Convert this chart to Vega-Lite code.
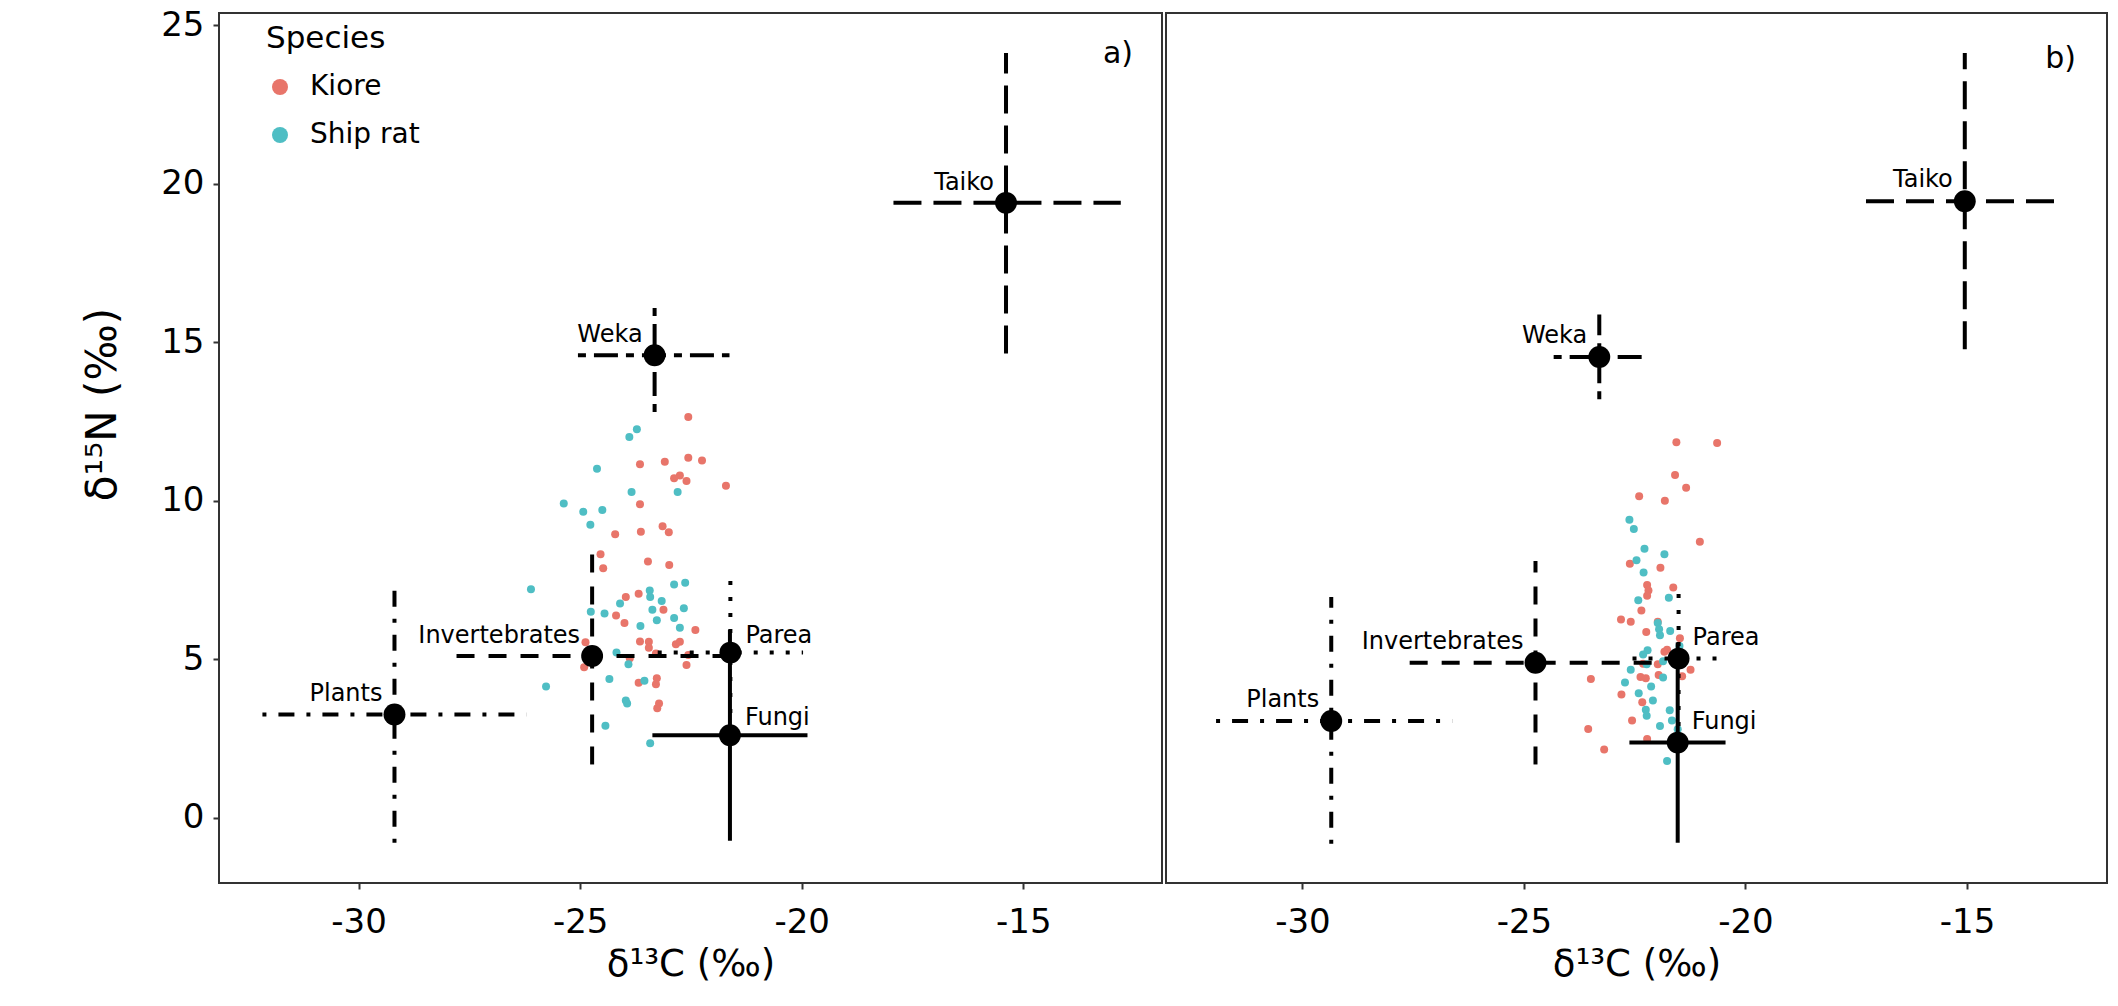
{
  "$schema": "https://vega.github.io/schema/vega-lite/v6.json",
  "padding": {"left": 80, "top": 7, "right": 5, "bottom": 5},
  "spacing": 2,
  "config": {
    "font": "DejaVu Sans",
    "view": {"stroke": "#333333", "strokeWidth": 2},
    "axis": {
      "domain": false, "grid": false,
      "tickColor": "#333333", "tickWidth": 2, "tickSize": 6,
      "labelFontSize": 34, "labelColor": "black", "labelFont": "DejaVu Sans",
      "labelExpr": "toString(datum.value)",
      "titleFontSize": 37, "titleFontWeight": "normal", "titleColor": "black", "titleFont": "DejaVu Sans"
    },
    "axisX": {"labelPadding": 16, "titlePadding": 7},
    "axisY": {"labelPadding": 9, "titlePadding": 36, "titleFontSize": 42, "titleY": 391},
    "title": {"fontSize": 30, "fontWeight": "normal", "color": "black", "font": "DejaVu Sans"}
  },
  "datasets": {
    "rats_a": [
      {"species": "Kiore", "x": -22.56, "y": 12.64}, {"species": "Kiore", "x": -23.65, "y": 11.15},
      {"species": "Kiore", "x": -23.09, "y": 11.23}, {"species": "Kiore", "x": -22.56, "y": 11.36},
      {"species": "Kiore", "x": -22.25, "y": 11.27}, {"species": "Kiore", "x": -22.75, "y": 10.80},
      {"species": "Kiore", "x": -22.88, "y": 10.71}, {"species": "Kiore", "x": -22.60, "y": 10.62},
      {"species": "Kiore", "x": -21.71, "y": 10.47}, {"species": "Kiore", "x": -23.65, "y": 9.89},
      {"species": "Kiore", "x": -23.14, "y": 9.20}, {"species": "Kiore", "x": -23.00, "y": 9.01},
      {"species": "Kiore", "x": -23.63, "y": 9.02}, {"species": "Kiore", "x": -24.21, "y": 8.94},
      {"species": "Kiore", "x": -24.54, "y": 8.31}, {"species": "Kiore", "x": -24.48, "y": 7.87},
      {"species": "Kiore", "x": -23.47, "y": 8.08}, {"species": "Kiore", "x": -22.99, "y": 7.97},
      {"species": "Kiore", "x": -23.97, "y": 6.96}, {"species": "Kiore", "x": -23.68, "y": 7.07},
      {"species": "Kiore", "x": -23.12, "y": 6.56}, {"species": "Kiore", "x": -24.19, "y": 6.38},
      {"species": "Kiore", "x": -24.00, "y": 6.14}, {"species": "Kiore", "x": -22.40, "y": 5.92},
      {"species": "Kiore", "x": -23.65, "y": 5.56}, {"species": "Kiore", "x": -23.45, "y": 5.55},
      {"species": "Kiore", "x": -23.45, "y": 5.36}, {"species": "Kiore", "x": -22.84, "y": 5.47},
      {"species": "Kiore", "x": -22.75, "y": 5.55}, {"species": "Kiore", "x": -24.88, "y": 5.54},
      {"species": "Kiore", "x": -24.91, "y": 4.75}, {"species": "Kiore", "x": -23.88, "y": 5.03},
      {"species": "Kiore", "x": -23.29, "y": 5.18}, {"species": "Kiore", "x": -22.56, "y": 5.13},
      {"species": "Kiore", "x": -22.60, "y": 4.82}, {"species": "Kiore", "x": -23.68, "y": 4.26},
      {"species": "Kiore", "x": -23.27, "y": 4.40}, {"species": "Kiore", "x": -23.29, "y": 4.21},
      {"species": "Kiore", "x": -23.22, "y": 3.60}, {"species": "Kiore", "x": -23.26, "y": 3.45},
      {"species": "Ship rat", "x": -23.72, "y": 12.26}, {"species": "Ship rat", "x": -23.89, "y": 12.01},
      {"species": "Ship rat", "x": -24.62, "y": 11.01}, {"species": "Ship rat", "x": -23.84, "y": 10.28},
      {"species": "Ship rat", "x": -22.80, "y": 10.28}, {"species": "Ship rat", "x": -25.37, "y": 9.91},
      {"species": "Ship rat", "x": -24.93, "y": 9.65}, {"species": "Ship rat", "x": -24.50, "y": 9.71},
      {"species": "Ship rat", "x": -24.77, "y": 9.24}, {"species": "Ship rat", "x": -26.11, "y": 7.21},
      {"species": "Ship rat", "x": -22.88, "y": 7.36}, {"species": "Ship rat", "x": -22.63, "y": 7.41},
      {"species": "Ship rat", "x": -23.43, "y": 7.17}, {"species": "Ship rat", "x": -23.42, "y": 6.96},
      {"species": "Ship rat", "x": -24.10, "y": 6.76}, {"species": "Ship rat", "x": -23.16, "y": 6.84},
      {"species": "Ship rat", "x": -23.37, "y": 6.56}, {"species": "Ship rat", "x": -24.76, "y": 6.50},
      {"species": "Ship rat", "x": -24.45, "y": 6.44}, {"species": "Ship rat", "x": -22.66, "y": 6.61},
      {"species": "Ship rat", "x": -23.27, "y": 6.23}, {"species": "Ship rat", "x": -22.88, "y": 6.30},
      {"species": "Ship rat", "x": -23.64, "y": 6.05}, {"species": "Ship rat", "x": -22.75, "y": 5.99},
      {"species": "Ship rat", "x": -24.18, "y": 5.21}, {"species": "Ship rat", "x": -23.91, "y": 4.84},
      {"species": "Ship rat", "x": -24.34, "y": 4.38}, {"species": "Ship rat", "x": -23.55, "y": 4.32},
      {"species": "Ship rat", "x": -25.77, "y": 4.14}, {"species": "Ship rat", "x": -23.97, "y": 3.70},
      {"species": "Ship rat", "x": -23.94, "y": 3.60}, {"species": "Ship rat", "x": -24.43, "y": 2.90},
      {"species": "Ship rat", "x": -23.42, "y": 2.35}
    ],
    "rats_b": [
      {"species": "Kiore", "x": -21.56, "y": 11.85}, {"species": "Kiore", "x": -20.64, "y": 11.82},
      {"species": "Kiore", "x": -21.59, "y": 10.81}, {"species": "Kiore", "x": -21.34, "y": 10.41},
      {"species": "Kiore", "x": -22.40, "y": 10.14}, {"species": "Kiore", "x": -21.82, "y": 10.00},
      {"species": "Kiore", "x": -21.03, "y": 8.71}, {"species": "Kiore", "x": -22.61, "y": 8.01},
      {"species": "Kiore", "x": -21.92, "y": 7.89}, {"species": "Kiore", "x": -22.22, "y": 7.34},
      {"species": "Kiore", "x": -22.19, "y": 7.17}, {"species": "Kiore", "x": -22.22, "y": 7.00},
      {"species": "Kiore", "x": -21.63, "y": 7.26}, {"species": "Kiore", "x": -22.35, "y": 6.54},
      {"species": "Kiore", "x": -22.81, "y": 6.25}, {"species": "Kiore", "x": -22.59, "y": 6.18},
      {"species": "Kiore", "x": -21.98, "y": 6.18}, {"species": "Kiore", "x": -22.24, "y": 5.86},
      {"species": "Kiore", "x": -21.48, "y": 5.66}, {"species": "Kiore", "x": -21.77, "y": 5.30},
      {"species": "Kiore", "x": -21.83, "y": 5.24}, {"species": "Kiore", "x": -22.31, "y": 4.86},
      {"species": "Kiore", "x": -21.98, "y": 4.84}, {"species": "Kiore", "x": -21.24, "y": 4.67},
      {"species": "Kiore", "x": -23.49, "y": 4.38}, {"species": "Kiore", "x": -22.37, "y": 4.44},
      {"species": "Kiore", "x": -22.25, "y": 4.40}, {"species": "Kiore", "x": -21.96, "y": 4.50},
      {"species": "Kiore", "x": -21.43, "y": 4.46}, {"species": "Kiore", "x": -22.80, "y": 3.89},
      {"species": "Kiore", "x": -22.33, "y": 3.64}, {"species": "Kiore", "x": -22.56, "y": 3.07},
      {"species": "Kiore", "x": -23.55, "y": 2.80}, {"species": "Kiore", "x": -22.22, "y": 2.48},
      {"species": "Kiore", "x": -23.19, "y": 2.15},
      {"species": "Ship rat", "x": -22.62, "y": 9.40}, {"species": "Ship rat", "x": -22.52, "y": 9.11},
      {"species": "Ship rat", "x": -22.28, "y": 8.49}, {"species": "Ship rat", "x": -21.83, "y": 8.31},
      {"species": "Ship rat", "x": -22.46, "y": 8.12}, {"species": "Ship rat", "x": -22.30, "y": 7.74},
      {"species": "Ship rat", "x": -21.73, "y": 6.94}, {"species": "Ship rat", "x": -22.42, "y": 6.86},
      {"species": "Ship rat", "x": -21.98, "y": 6.14}, {"species": "Ship rat", "x": -21.95, "y": 5.95},
      {"species": "Ship rat", "x": -21.93, "y": 5.76}, {"species": "Ship rat", "x": -21.70, "y": 5.89},
      {"species": "Ship rat", "x": -22.21, "y": 5.28}, {"species": "Ship rat", "x": -22.31, "y": 5.15},
      {"species": "Ship rat", "x": -22.23, "y": 4.84}, {"species": "Ship rat", "x": -21.86, "y": 4.94},
      {"species": "Ship rat", "x": -22.59, "y": 4.67}, {"species": "Ship rat", "x": -21.86, "y": 4.42},
      {"species": "Ship rat", "x": -22.72, "y": 4.27}, {"species": "Ship rat", "x": -22.13, "y": 4.14},
      {"species": "Ship rat", "x": -22.41, "y": 3.93}, {"species": "Ship rat", "x": -22.09, "y": 3.70},
      {"species": "Ship rat", "x": -22.25, "y": 3.41}, {"species": "Ship rat", "x": -22.23, "y": 3.22},
      {"species": "Ship rat", "x": -21.71, "y": 3.39}, {"species": "Ship rat", "x": -21.93, "y": 2.89},
      {"species": "Ship rat", "x": -21.66, "y": 3.07}, {"species": "Ship rat", "x": -21.77, "y": 1.79},
      {"species": "Ship rat", "x": -21.49, "y": 5.42}, {"species": "Ship rat", "x": -21.53, "y": 2.79}
    ],
    "src_a": [
      {"source": "Taiko", "x": -15.39, "y": 19.40, "xmin": -17.93, "xmax": -12.80, "ymin": 14.65, "ymax": 24.13},
      {"source": "Weka", "x": -23.32, "y": 14.59, "xmin": -25.05, "xmax": -21.63, "ymin": 12.80, "ymax": 16.20},
      {"source": "Invertebrates", "x": -24.73, "y": 5.10, "xmin": -27.79, "xmax": -21.67, "ymin": 1.68, "ymax": 8.47},
      {"source": "Parea", "x": -21.61, "y": 5.21, "xmin": -23.25, "xmax": -19.97, "ymin": 2.80, "ymax": 7.62},
      {"source": "Fungi", "x": -21.62, "y": 2.60, "xmin": -23.37, "xmax": -19.87, "ymin": -0.73, "ymax": 5.93},
      {"source": "Plants", "x": -29.19, "y": 3.26, "xmin": -32.17, "xmax": -26.21, "ymin": -0.79, "ymax": 7.31}
    ],
    "src_b": [
      {"source": "Taiko", "x": -15.05, "y": 19.45, "xmin": -17.28, "xmax": -12.81, "ymin": 14.78, "ymax": 24.13},
      {"source": "Weka", "x": -23.30, "y": 14.54, "xmin": -24.33, "xmax": -22.25, "ymin": 13.20, "ymax": 15.88},
      {"source": "Invertebrates", "x": -24.74, "y": 4.89, "xmin": -27.58, "xmax": -21.90, "ymin": 1.68, "ymax": 8.10},
      {"source": "Parea", "x": -21.51, "y": 5.02, "xmin": -22.55, "xmax": -20.47, "ymin": 2.89, "ymax": 7.15},
      {"source": "Fungi", "x": -21.53, "y": 2.37, "xmin": -22.62, "xmax": -20.45, "ymin": -0.79, "ymax": 5.53},
      {"source": "Plants", "x": -29.35, "y": 3.05, "xmin": -31.95, "xmax": -26.62, "ymin": -0.82, "ymax": 6.96}
    ]
  },
  "hconcat": [
    {
      "width": 943,
      "height": 870,
      "title": {"text": "a)", "anchor": "end", "frame": "group", "baseline": "alphabetic", "offset": -78, "dx": -29, "dy": 7},
      "encoding": {
        "x": {"field": "x", "type": "quantitative", "scale": {"domain": [-33.15, -11.87], "nice": false, "zero": false}, "axis": {"values": [-30, -25, -20, -15], "title": "δ¹³C (‰)"}},
        "y": {"field": "y", "type": "quantitative", "scale": {"domain": [-2.06, 25.39], "nice": false, "zero": false}, "axis": {"values": [0, 5, 10, 15, 20, 25], "title": "δ¹⁵N (‰)"}}
      },
      "layer": [
        {
          "data": {"name": "rats_a"},
          "mark": {"type": "circle", "size": 64, "opacity": 1},
          "encoding": {
            "color": {
              "field": "species", "type": "nominal",
              "scale": {"domain": ["Kiore", "Ship rat"], "range": ["#E8756A", "#4FBEC4"]},
              "legend": {
                "title": "Species", "orient": "none", "legendX": 47, "legendY": 11,
                "titleFontSize": 31, "titleFontWeight": "normal", "titleColor": "black", "titlePadding": 18,
                "labelFontSize": 28, "labelColor": "black", "labelOffset": 16,
                "symbolType": "circle", "symbolSize": 256, "symbolStrokeWidth": 0, "rowPadding": 20, "padding": 0
              }
            }
          }
        },
        {
          "data": {"name": "src_a"},
          "mark": {"type": "rule", "strokeWidth": 4, "color": "black"},
          "encoding": {
            "x": {"field": "xmin", "type": "quantitative", "scale": {"domain": [-33.15, -11.87], "nice": false, "zero": false}, "axis": {"values": [-30, -25, -20, -15], "title": "δ¹³C (‰)"}},
            "x2": {"field": "xmax"},
            "strokeDash": {
              "field": "source", "type": "nominal", "legend": null,
              "scale": {"domain": ["Taiko", "Weka", "Invertebrates", "Parea", "Fungi", "Plants"], "range": [[28, 12], [8, 8, 24, 8], [18, 14], [4, 12], [1, 0], [4, 12, 16, 12]]}
            }
          }
        },
        {
          "data": {"name": "src_a"},
          "mark": {"type": "rule", "strokeWidth": 4, "color": "black"},
          "encoding": {
            "y": {"field": "ymin", "type": "quantitative", "scale": {"domain": [-2.06, 25.39], "nice": false, "zero": false}, "axis": {"values": [0, 5, 10, 15, 20, 25], "title": "δ¹⁵N (‰)"}},
            "y2": {"field": "ymax"},
            "strokeDash": {
              "field": "source", "type": "nominal", "legend": null,
              "scale": {"domain": ["Taiko", "Weka", "Invertebrates", "Parea", "Fungi", "Plants"], "range": [[28, 12], [8, 8, 24, 8], [18, 14], [4, 12], [1, 0], [4, 12, 16, 12]]}
            }
          }
        },
        {
          "data": {"name": "src_a"},
          "mark": {"type": "circle", "size": 480, "color": "black", "opacity": 1}
        },
        {
          "data": {"name": "src_a"},
          "transform": [{"filter": "datum.source != 'Parea' && datum.source != 'Fungi'"}],
          "mark": {"type": "text", "align": "right", "baseline": "alphabetic", "dx": -12, "dy": -13, "fontSize": 24, "color": "black"},
          "encoding": {"text": {"field": "source"}}
        },
        {
          "data": {"name": "src_a"},
          "transform": [{"filter": "datum.source == 'Parea' || datum.source == 'Fungi'"}],
          "mark": {"type": "text", "align": "left", "baseline": "alphabetic", "dx": 15, "dy": -10, "fontSize": 24, "color": "black"},
          "encoding": {"text": {"field": "source"}}
        }
      ]
    },
    {
      "width": 941,
      "height": 870,
      "title": {"text": "b)", "anchor": "end", "frame": "group", "baseline": "alphabetic", "offset": -78, "dx": -31, "dy": 7},
      "encoding": {
        "x": {"field": "x", "type": "quantitative", "scale": {"domain": [-33.08, -11.84], "nice": false, "zero": false}, "axis": {"values": [-30, -25, -20, -15], "title": "δ¹³C (‰)"}},
        "y": {"field": "y", "type": "quantitative", "scale": {"domain": [-2.06, 25.39], "nice": false, "zero": false}, "axis": null}
      },
      "layer": [
        {
          "data": {"name": "rats_b"},
          "mark": {"type": "circle", "size": 64, "opacity": 1},
          "encoding": {
            "color": {
              "field": "species", "type": "nominal",
              "scale": {"domain": ["Kiore", "Ship rat"], "range": ["#E8756A", "#4FBEC4"]},
              "legend": null
            }
          }
        },
        {
          "data": {"name": "src_b"},
          "mark": {"type": "rule", "strokeWidth": 4, "color": "black"},
          "encoding": {
            "x": {"field": "xmin", "type": "quantitative", "scale": {"domain": [-33.08, -11.84], "nice": false, "zero": false}, "axis": {"values": [-30, -25, -20, -15], "title": "δ¹³C (‰)"}},
            "x2": {"field": "xmax"},
            "strokeDash": {
              "field": "source", "type": "nominal", "legend": null,
              "scale": {"domain": ["Taiko", "Weka", "Invertebrates", "Parea", "Fungi", "Plants"], "range": [[28, 12], [8, 8, 24, 8], [18, 14], [4, 12], [1, 0], [4, 12, 16, 12]]}
            }
          }
        },
        {
          "data": {"name": "src_b"},
          "mark": {"type": "rule", "strokeWidth": 4, "color": "black"},
          "encoding": {
            "y": {"field": "ymin", "type": "quantitative", "scale": {"domain": [-2.06, 25.39], "nice": false, "zero": false}, "axis": null},
            "y2": {"field": "ymax"},
            "strokeDash": {
              "field": "source", "type": "nominal", "legend": null,
              "scale": {"domain": ["Taiko", "Weka", "Invertebrates", "Parea", "Fungi", "Plants"], "range": [[28, 12], [8, 8, 24, 8], [18, 14], [4, 12], [1, 0], [4, 12, 16, 12]]}
            }
          }
        },
        {
          "data": {"name": "src_b"},
          "mark": {"type": "circle", "size": 480, "color": "black", "opacity": 1}
        },
        {
          "data": {"name": "src_b"},
          "transform": [{"filter": "datum.source != 'Parea' && datum.source != 'Fungi'"}],
          "mark": {"type": "text", "align": "right", "baseline": "alphabetic", "dx": -12, "dy": -14, "fontSize": 24, "color": "black"},
          "encoding": {"text": {"field": "source"}}
        },
        {
          "data": {"name": "src_b"},
          "transform": [{"filter": "datum.source == 'Parea' || datum.source == 'Fungi'"}],
          "mark": {"type": "text", "align": "left", "baseline": "alphabetic", "dx": 14, "dy": -14, "fontSize": 24, "color": "black"},
          "encoding": {"text": {"field": "source"}}
        }
      ]
    }
  ],
  "resolve": {"scale": {"color": "independent"}, "legend": {"color": "independent"}}
}
